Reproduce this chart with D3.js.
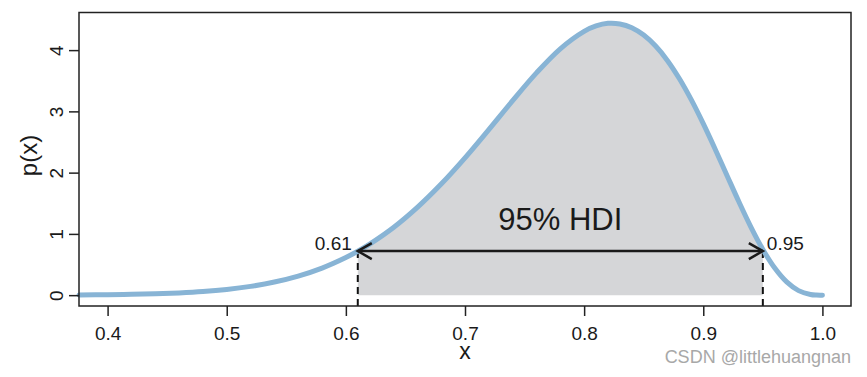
<!DOCTYPE html>
<html>
<head>
<meta charset="utf-8">
<script src="https://cdn.jsdelivr.net/npm/d3@7"></script>
<style>
  body { margin: 0; background: #fff; }
  svg text { font-family: "Liberation Sans", Arial, Helvetica, sans-serif; fill: #1a1a1a; }
</style>
</head>
<body>
<svg id="chart" width="867" height="377"></svg>
<script>
// density values
const xs = [0.376, 0.40, 0.42, 0.44, 0.46, 0.48, 0.50, 0.52, 0.54, 0.56, 0.58, 0.60, 0.61, 0.62,
            0.64, 0.66, 0.68, 0.70, 0.72, 0.74, 0.76, 0.78, 0.80, 0.81, 0.82, 0.83, 0.84, 0.85,
            0.86, 0.87, 0.88, 0.89, 0.90, 0.91, 0.92, 0.93, 0.94, 0.95, 0.96, 0.97, 0.98, 0.99, 0.995, 1.00];
const ps = [0.003, 0.007, 0.013, 0.022, 0.037, 0.059, 0.093, 0.143, 0.214, 0.311, 0.442, 0.614, 0.717, 0.833,
            1.104, 1.432, 1.813, 2.241, 2.703, 3.175, 3.628, 4.021, 4.306, 4.394, 4.437, 4.427, 4.366, 4.245,
            4.066, 3.828, 3.532, 3.187, 2.800, 2.383, 1.950, 1.520, 1.112, 0.746, 0.442, 0.216, 0.074, 0.011, 0.001, 0.000];

const hdiBounds = [0.61, 0.95];
const hdiLabels = ["0.61", "0.95"];
const hdiLevel = 0.72;   // height of the arrow
const hdiText = "95% HDI";

const xTicks = [0.4, 0.5, 0.6, 0.7, 0.8, 0.9, 1.0];
const yTicks = [0, 1, 2, 3, 4];

const data = xs.map((x, i) => ({ x: x, p: ps[i] }));

const svg = d3.select("#chart");
const plot = { left: 79, right: 851, top: 12.5, bottom: 306 };

const x = d3.scaleLinear().domain([0.376, 1.024]).range([plot.left, plot.right]);
const y = d3.scaleLinear().domain([-0.177, 4.614]).range([plot.bottom, plot.top]);

// HDI shading
const hdiData = data.filter(d => d.x >= hdiBounds[0] - 1e-9 && d.x <= hdiBounds[1] + 1e-9);
const area = d3.area()
    .x(d => x(d.x))
    .y0(y(0))
    .y1(d => y(d.p))
    .curve(d3.curveCatmullRom);

svg.append("path")
    .datum(hdiData)
    .attr("d", area)
    .attr("fill", "#d5d6d8");

// dashed drop lines
svg.selectAll(".drop")
    .data(hdiBounds)
    .enter()
    .append("line")
    .attr("x1", d => x(d))
    .attr("x2", d => x(d))
    .attr("y1", y(hdiLevel))
    .attr("y2", plot.bottom)
    .attr("stroke", "#111")
    .attr("stroke-width", 2)
    .attr("stroke-dasharray", "7,5");

// density curve
const line = d3.line()
    .x(d => x(d.x))
    .y(d => y(d.p))
    .curve(d3.curveCatmullRom);

svg.append("path")
    .datum(data)
    .attr("d", line)
    .attr("fill", "none")
    .attr("stroke", "#88b4d5")
    .attr("stroke-width", 5)
    .attr("stroke-linecap", "round");

// double arrow
const ay = y(hdiLevel);
const xa = x(hdiBounds[0]), xb = x(hdiBounds[1]);
svg.append("line")
    .attr("x1", xa).attr("x2", xb)
    .attr("y1", ay).attr("y2", ay)
    .attr("stroke", "#1a1a1a")
    .attr("stroke-width", 2.5);

svg.append("path")
    .attr("d", `M${xa + 14},${ay - 8}L${xa},${ay}L${xa + 14},${ay + 8}` +
               `M${xb - 14},${ay - 8}L${xb},${ay}L${xb - 14},${ay + 8}`)
    .attr("fill", "none")
    .attr("stroke", "#1a1a1a")
    .attr("stroke-width", 2.5);

svg.append("text")
    .attr("x", xa - 6)
    .attr("y", 250)
    .attr("text-anchor", "end")
    .style("font-size", "19px")
    .text(hdiLabels[0]);

svg.append("text")
    .attr("x", xb + 4)
    .attr("y", 250)
    .attr("text-anchor", "start")
    .style("font-size", "19px")
    .text(hdiLabels[1]);

svg.append("text")
    .attr("x", (xa + xb) / 2)
    .attr("y", 230)
    .attr("text-anchor", "middle")
    .style("font-size", "31px")
    .text(hdiText);

// plot box
svg.append("rect")
    .attr("x", plot.left)
    .attr("y", plot.top)
    .attr("width", plot.right - plot.left)
    .attr("height", plot.bottom - plot.top)
    .attr("fill", "none")
    .attr("stroke", "#222")
    .attr("stroke-width", 1.5);

// x axis
const xAxis = svg.append("g")
    .attr("transform", `translate(0,${plot.bottom})`)
    .call(d3.axisBottom(x).tickValues(xTicks).tickSize(10).tickPadding(11).tickFormat(d3.format(".1f")));
xAxis.select(".domain").remove();
xAxis.selectAll("line").attr("stroke", "#222").attr("stroke-width", 1.5);
xAxis.selectAll("text").style("font-size", "19px").attr("fill", "#1a1a1a");

// y axis
const yAxis = svg.append("g")
    .attr("transform", `translate(${plot.left},0)`)
    .call(d3.axisLeft(y).tickValues(yTicks).tickSize(10).tickFormat(d3.format("d")));
yAxis.select(".domain").remove();
yAxis.selectAll("line").attr("stroke", "#222").attr("stroke-width", 1.5);
yAxis.selectAll("text")
    .attr("x", null)
    .attr("dy", null)
    .attr("transform", "translate(-16.5,0) rotate(-90)")
    .attr("text-anchor", "middle")
    .style("font-size", "19px")
    .attr("fill", "#1a1a1a");

// axis titles
svg.append("text")
    .attr("x", (plot.left + plot.right) / 2)
    .attr("y", 359)
    .attr("text-anchor", "middle")
    .style("font-size", "23px")
    .text("x");

svg.append("text")
    .attr("transform", `translate(37,155.5) rotate(-90)`)
    .attr("text-anchor", "middle")
    .style("font-size", "24px")
    .text("p(x)");

// watermark
svg.append("text")
    .attr("x", 851)
    .attr("y", 363)
    .attr("text-anchor", "end")
    .style("font-size", "18px")
    .style("fill", "#a8a8a8")
    .text("CSDN @littlehuangnan");
</script>
</body>
</html>
